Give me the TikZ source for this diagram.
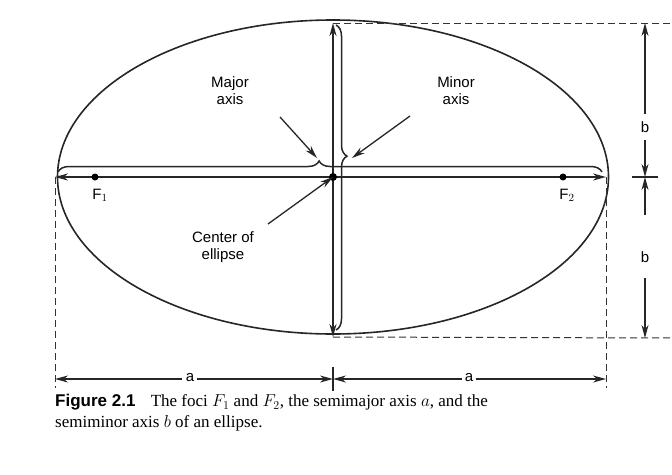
\documentclass[tikz,border=0pt]{standalone}
\usepackage{fontspec}
\setmainfont{Liberation Serif}
\newfontfamily\lsans{Liberation Sans}
\usetikzlibrary{arrows.meta,decorations.pathreplacing}
\begin{document}
\begin{tikzpicture}[x=1pt,y=-1pt,
  ln/.style={line width=1.6pt,black!85},
  arr/.style={ln,-{Stealth[length=13pt,width=7pt]}},
  dsh/.style={line width=1pt,dash pattern=on 7pt off 4pt,black!80},
  lbl/.style={font=\lsans\fontsize{15}{17}\selectfont,align=center,inner sep=1pt},
  brc/.style={ln,line width=1.5pt,decorate}]
\useasboundingbox (0,0) rectangle (672,474);
\coordinate (C) at (333,177);
\coordinate (L) at (55,177);
\coordinate (R) at (606,177);
\coordinate (T) at (333,23);
\coordinate (B) at (333,337);
\draw[ln] (C) ellipse [x radius=275.5, y radius=157];
% axes
\draw[arr] (C) -- (L);
\draw[arr] (C) -- (R);
\draw[arr] (C) -- (T);
\draw[arr] (C) -- (B);
\fill (C) circle (4pt);
\node[circle,fill,inner sep=0pt,minimum size=7pt] (f1) at (95,177) {};
\node[circle,fill,inner sep=0pt,minimum size=7pt] (f2) at (563,177) {};
\node[lbl] (F1) at (100,195) {F$_1$};
\node[lbl] (F2) at (567,195) {F$_2$};
% braces
\draw[brc,decoration={brace,amplitude=11pt,aspect=0.48}] (58,172) -- (602,172);
\draw[brc,decoration={brace,amplitude=11pt,aspect=0.43}] (336,25) -- (336,330);
% labels
\node[lbl] (maj) at (230,91) {Major\\axis};
\node[lbl] (min) at (456,91) {Minor\\axis};
\node[lbl] (cen) at (223,247) {Center of\\ellipse};
\coordinate (majt) at (317,158);
\coordinate (mint) at (352,158);
\draw[arr,line width=1.3pt] (280,117) -- (majt);
\draw[arr,line width=1.3pt] (410,116) -- (mint);
\draw[arr,line width=1.3pt] (268,224) -- (C);
% dashed extension lines
\coordinate (tr) at (672,23);
\coordinate (br) at (672,338);
\draw[dsh] (T) -- (tr);
\draw[dsh] (B) -- (br);
\coordinate (ld) at (55,388);
\coordinate (rd) at (606,388);
\draw[dsh] (L) -- (ld);
\draw[dsh] (R) -- (rd);
% b dimension
\coordinate (bt) at (645,23);
\coordinate (bm) at (645,177);
\coordinate (bb) at (645,338);
\draw[ln,line width=1.1pt] (632,177) -- (658,177);
\draw[arr,line width=1.1pt] (645,114) -- (bt);
\draw[arr,line width=1.1pt] (645,140) -- (bm);
\draw[arr,line width=1.1pt] (645,215) -- (bm);
\draw[arr,line width=1.1pt] (645,278) -- (bb);
\node[lbl] (b1) at (645,127) {b};
\node[lbl] (b2) at (645,257) {b};
% a dimension
\coordinate (am) at (333,379);
\coordinate (al) at (55,379);
\coordinate (ar) at (606,379);
\draw[ln,line width=1.1pt] (333,367) -- (333,391);
\draw[arr,line width=1.1pt] (182,379) -- (al);
\draw[arr,line width=1.1pt] (197,379) -- (am);
\draw[arr,line width=1.1pt] (462,379) -- (am);
\draw[arr,line width=1.1pt] (476,379) -- (ar);
\node[lbl,fill=white] (a1) at (190,378) {a};
\node[lbl,fill=white] (a2) at (469,378) {a};
% caption
\node[anchor=north west,inner sep=0pt,align=left,font=\fontsize{17}{21}\selectfont] (cap) at (55,394)
 {{\lsans\bfseries Figure 2.1}\hspace{0.9em}The foci $F_1$ and $F_2$, the semimajor axis $a$, and the\\semiminor axis $b$ of an ellipse.};
\end{tikzpicture}
\end{document}
